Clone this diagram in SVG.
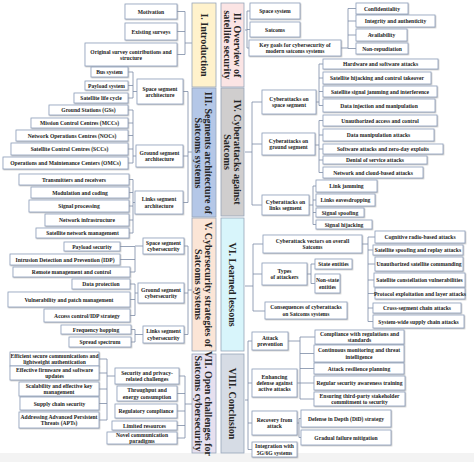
<svg xmlns="http://www.w3.org/2000/svg" width="474" height="462" viewBox="0 0 474 462">
<defs>
<filter id="sh" x="-10%" y="-10%" width="130%" height="140%"><feDropShadow dx="0.7" dy="0.8" stdDeviation="0.5" flood-color="#8a8a8a" flood-opacity="0.55"/></filter>
<style>
.b{fill:#fff;stroke:#8D9FBB;stroke-width:0.8;filter:url(#sh)}
.t{font-family:"Liberation Serif","Times New Roman",serif;font-weight:bold;font-size:5.6px;fill:#1c1c1c;text-anchor:middle;dominant-baseline:central}
.s{font-family:"Liberation Serif","Times New Roman",serif;font-weight:bold;font-size:10px;fill:#262626;text-anchor:middle;dominant-baseline:central}
.sec{stroke:#97A5BA;stroke-width:0.8}
.c{fill:none;stroke:#7C8CA6;stroke-width:0.8}
</style>
</defs>
<rect x="0" y="0" width="474" height="462" fill="#fff"/>
<rect x="0" y="453" width="474" height="9" fill="#F3F3F3"/>

<g id="connectors" class="c">
<path d="M185,11.5V54.5M177,11.5H185M177,31.5H185M177,54.5H185M185,43H192"/>
<path d="M133,72V98M128,72H133M128,85.5H133M128,98H133M133,91.5H137"/>
<path d="M133,110V163M128,110H133M128,123H133M128,135.5H133M128,149H133M128,163H133M133,156H136"/>
<path d="M133,179.5V233M129,179.5H133M129,192.5H133M129,206H133M129,220H133M129,233H133M133,202.5H135"/>
<path d="M188,91.5V202.5M183,91.5H188M183,156H188M183,202.5H188M188,152H192"/>
<path d="M135,246.5V272M120,246.5H135M120,259.5H135M130,272H135M135,246H143"/>
<path d="M135,284V315.5M130,284H135M130,299.5H135M130,315.5H135M135,293H138"/>
<path d="M135,329.5V342M131,329.5H135M131,342H135M135,334.5H143"/>
<path d="M188,246V334.5M184,246H188M184,293H188M184,334.5H188M188,290H192"/>
<path d="M107,359V420M99,359H107M99,373H107M99,389H107M99,403.5H107M99,420H107M107,376H115"/>
<path d="M185,376V438M179,376H185M177,393.5H185M177,411H185M177,425.5H185M177,438H185M185,404H192"/>
<path d="M247,11V48M247,11H250M247,29.5H250M247,48H249M245,30H247"/>
<path d="M348,8.5V48.5M348,8.5H356M348,21H356M348,35H356M348,48.5H356M341,48H348"/>
<path d="M319,64V105.5M319,64H323M319,78H323M319,91.5H323M319,105.5H323M316,102H319"/>
<path d="M319,120.5V172.5M319,120.5H323M319,135H323M319,149H323M319,160H323M319,172.5H323M315,145H319"/>
<path d="M313,186V224.5M313,186H316M313,200H316M313,212.5H316M313,224.5H316M309,205H313"/>
<path d="M252,102V205M252,102H262M252,144H262M252,205H262M245,152H252"/>
<path d="M311,264V283.5M311,264H315M311,283.5H315M307,274H311"/>
<path d="M253,244V311M253,244H263M253,274H262M253,311H265M245,286H253"/>
<path d="M368,237V321.5M368,237H375M368,250H373M368,264H375M368,280H374M368,293.5H375M368,308H373M368,321.5H373M362,244H368"/>
<path d="M248,341V449.5M248,341H252M248,383H252M248,423H252M248,449.5H252M245,400H248"/>
<path d="M300,337V399M300,337H315M300,353.5H314M300,368.5H314M300,383H314M300,399H314M288,341H300M297,383H300"/>
<path d="M299,418.5V437.5M299,418.5H301M299,437.5H301M297,423H299"/>
</g>

<g id="sec-I"><rect class="sec" x="192" y="3" width="24" height="84" fill="#FFF2CC"/><text class="s" transform="translate(204,45) rotate(90)">I. Introduction</text></g>
<g id="sec-II"><rect class="sec" x="221" y="3" width="23" height="84" fill="#FBE4E4"/><text class="s" transform="translate(232.5,45) rotate(90)"><tspan x="0" y="-5">II. Overview of</tspan><tspan x="0" y="5">satellite security</tspan></text></g>
<g id="sec-III"><rect class="sec" x="192" y="88" width="24" height="129" fill="#B4C7E7"/><text class="s" transform="translate(204,153) rotate(90)"><tspan x="0" y="-5">III. Segments architecture of</tspan><tspan x="0" y="5">Satcoms systems</tspan></text></g>
<g id="sec-IV"><rect class="sec" x="221" y="88" width="23" height="128" fill="#D0CECE"/><text class="s" transform="translate(232.5,152) rotate(90)"><tspan x="0" y="-5">IV. Cyberattacks against</tspan><tspan x="0" y="5">Satcoms</tspan></text></g>
<g id="sec-V"><rect class="sec" x="192" y="218" width="24" height="133" fill="#FBE5D6"/><text class="s" transform="translate(204,284.5) rotate(90)"><tspan x="0" y="-5">V. Cybersecurity strategies of</tspan><tspan x="0" y="5">Satcoms systems</tspan></text></g>
<g id="sec-VI"><rect class="sec" x="221" y="218" width="23" height="133" fill="#D8F5FB"/><text class="s" transform="translate(232.5,284.5) rotate(90)">VI. Learned lessons</text></g>
<g id="sec-VII"><rect class="sec" x="192" y="354" width="24" height="99" fill="#E6E0EF"/><text class="s" transform="translate(204,403.5) rotate(90)"><tspan x="0" y="-5">VII. Open challenges for</tspan><tspan x="0" y="5">Satcoms cybersecurity</tspan></text></g>
<g id="sec-VIII"><rect class="sec" x="221" y="354" width="23" height="99" fill="#D6DCE5"/><text class="s" transform="translate(232.5,403.5) rotate(90)">VIII. Conclusion</text></g>

<g id="n1"><rect class="b" x="125" y="4" width="52" height="15"/><text class="t" x="151" y="11.5">Motivation</text></g>
<g id="n2"><rect class="b" x="125" y="23" width="52" height="17"/><text class="t" x="151" y="31.5">Existing surveys</text></g>
<g id="n3"><rect class="b" x="85" y="43" width="92" height="23"/><text class="t"><tspan x="131" y="51.5">Original survey contributions and</tspan><tspan x="131" y="58">structure</tspan></text></g>
<g id="n4"><rect class="b" x="91" y="67" width="37" height="10"/><text class="t" x="109.5" y="72">Bus system</text></g>
<g id="n5"><rect class="b" x="85" y="81" width="43" height="9"/><text class="t" x="106.5" y="85.5">Payload system</text></g>
<g id="n6"><rect class="b" x="74" y="93" width="54" height="10"/><text class="t" x="101" y="98">Satellite life cycle</text></g>
<g id="n7"><rect class="b" x="137" y="79" width="46" height="25"/><text class="t"><tspan x="160" y="88.5">Space segment</tspan><tspan x="160" y="95">architecture</tspan></text></g>
<g id="n8"><rect class="b" x="49" y="105" width="79" height="10"/><text class="t" x="88.5" y="110">Ground Stations (GSs)</text></g>
<g id="n9"><rect class="b" x="31" y="118" width="97" height="10"/><text class="t" x="79.5" y="123">Mission Control Centres (MCCs)</text></g>
<g id="n10"><rect class="b" x="16" y="130" width="112" height="11"/><text class="t" x="72" y="135.5">Network Operations Centres (NOCs)</text></g>
<g id="n11"><rect class="b" x="11" y="143" width="117" height="12"/><text class="t" x="69.5" y="149">Satellite Control Centres (SCCs)</text></g>
<g id="n12"><rect class="b" x="3" y="157" width="125" height="12"/><text class="t" x="65.5" y="163">Operations and Maintenance Centers (OMCs)</text></g>
<g id="n13"><rect class="b" x="136" y="145" width="47" height="22"/><text class="t"><tspan x="159.5" y="152.7">Ground segment</tspan><tspan x="159.5" y="159.2">architecture</tspan></text></g>
<g id="n14"><rect class="b" x="19" y="174" width="110" height="11"/><text class="t" x="74" y="179.5">Transmitters and receivers</text></g>
<g id="n15"><rect class="b" x="31" y="187" width="98" height="11"/><text class="t" x="80" y="192.5">Modulation and coding</text></g>
<g id="n16"><rect class="b" x="29" y="200" width="100" height="12"/><text class="t" x="79" y="206">Signal processing</text></g>
<g id="n17"><rect class="b" x="45" y="214" width="84" height="12"/><text class="t" x="87" y="220">Network infrastructure</text></g>
<g id="n18"><rect class="b" x="36" y="228" width="93" height="10"/><text class="t" x="82.5" y="233">Satellite network management</text></g>
<g id="n19"><rect class="b" x="135" y="191" width="48" height="23"/><text class="t"><tspan x="159" y="199.2">Links segment</tspan><tspan x="159" y="205.7">architecture</tspan></text></g>
<g id="n20"><rect class="b" x="64" y="242" width="56" height="9"/><text class="t" x="92" y="246.5">Payload security</text></g>
<g id="n21"><rect class="b" x="10" y="254" width="110" height="11"/><text class="t" x="65" y="259.5">Intrusion Detection and Prevention (IDP)</text></g>
<g id="n22"><rect class="b" x="13" y="267" width="117" height="10"/><text class="t" x="71.5" y="272">Remote management and control</text></g>
<g id="n23"><rect class="b" x="143" y="238" width="41" height="16"/><text class="t"><tspan x="163.5" y="242.8">Space segment</tspan><tspan x="163.5" y="249.3">cybersecurity</tspan></text></g>
<g id="n24"><rect class="b" x="72" y="279" width="58" height="10"/><text class="t" x="101" y="284">Data protection</text></g>
<g id="n25"><rect class="b" x="8" y="292" width="122" height="15"/><text class="t" x="69" y="299.5">Vulnerability and patch management</text></g>
<g id="n26"><rect class="b" x="44" y="309" width="86" height="13"/><text class="t" x="87" y="315.5">Access control/IDP strategy</text></g>
<g id="n27"><rect class="b" x="138" y="283" width="46" height="20"/><text class="t"><tspan x="161" y="289.8">Ground segment</tspan><tspan x="161" y="296.3">cybersecurity</tspan></text></g>
<g id="n28"><rect class="b" x="61" y="325" width="70" height="9"/><text class="t" x="96" y="329.5">Frequency hopping</text></g>
<g id="n29"><rect class="b" x="69" y="337" width="62" height="10"/><text class="t" x="100" y="342">Spread spectrum</text></g>
<g id="n30"><rect class="b" x="143" y="326" width="41" height="17"/><text class="t"><tspan x="163.5" y="331.3">Links segment</tspan><tspan x="163.5" y="337.8">cybersecurity</tspan></text></g>
<g id="n31"><rect class="b" x="10" y="352" width="89" height="14"/><text class="t"><tspan x="54.5" y="355.8">Efficient secure communications and</tspan><tspan x="54.5" y="362.2">lightweight authentication</tspan></text></g>
<g id="n32"><rect class="b" x="10" y="366" width="89" height="14"/><text class="t"><tspan x="54.5" y="369.8">Effective firmware and software</tspan><tspan x="54.5" y="376.2">updates</tspan></text></g>
<g id="n33"><rect class="b" x="19" y="382" width="80" height="14"/><text class="t"><tspan x="59" y="385.8">Scalability and effective key</tspan><tspan x="59" y="392.2">management</tspan></text></g>
<g id="n34"><rect class="b" x="20" y="397" width="79" height="13"/><text class="t" x="59.5" y="403.5">Supply chain security</text></g>
<g id="n35"><rect class="b" x="19" y="412" width="80" height="16"/><text class="t"><tspan x="59" y="416.8">Addressing Advanced Persistent</tspan><tspan x="59" y="423.2">Threats (APTs)</tspan></text></g>
<g id="n36"><rect class="b" x="115" y="368" width="64" height="16"/><text class="t"><tspan x="147" y="372.8">Security and privacy-</tspan><tspan x="147" y="379.2">related challenges</tspan></text></g>
<g id="n37"><rect class="b" x="117" y="386" width="60" height="15"/><text class="t"><tspan x="147" y="390.3">Throughput and</tspan><tspan x="147" y="396.7">energy consumption</tspan></text></g>
<g id="n38"><rect class="b" x="115" y="404" width="62" height="14"/><text class="t" x="146" y="411">Regulatory compliance</text></g>
<g id="n39"><rect class="b" x="112" y="421" width="65" height="9"/><text class="t" x="144.5" y="425.5">Limited resources</text></g>
<g id="n40"><rect class="b" x="107" y="432" width="70" height="12"/><text class="t"><tspan x="142" y="434.8">Novel communication</tspan><tspan x="142" y="441.2">paradigms</tspan></text></g>

<g id="n41"><rect class="b" x="250" y="3" width="50" height="16"/><text class="t" x="275" y="11">Space system</text></g>
<g id="n42"><rect class="b" x="250" y="22" width="50" height="15"/><text class="t" x="275" y="29.5">Satcoms</text></g>
<g id="n43"><rect class="b" x="249" y="40" width="92" height="16"/><text class="t"><tspan x="295" y="44.8">Key goals for cybersecurity of</tspan><tspan x="295" y="51.2">modern satcoms systems</tspan></text></g>
<g id="n44"><rect class="b" x="356" y="3" width="52" height="11"/><text class="t" x="382" y="8.5">Confidentiality</text></g>
<g id="n45"><rect class="b" x="356" y="15" width="79" height="12"/><text class="t" x="395.5" y="21">Integrity and authenticity</text></g>
<g id="n46"><rect class="b" x="356" y="29" width="51" height="12"/><text class="t" x="381.5" y="35">Availability</text></g>
<g id="n47"><rect class="b" x="356" y="43" width="52" height="11"/><text class="t" x="382" y="48.5">Non-repudiation</text></g>
<g id="n48"><rect class="b" x="262" y="90" width="54" height="24"/><text class="t"><tspan x="289" y="98.8">Cyberattacks on</tspan><tspan x="289" y="105.2">space segment</tspan></text></g>
<g id="n49"><rect class="b" x="323" y="59" width="115" height="10"/><text class="t" x="380.5" y="64">Hardware and software attacks</text></g>
<g id="n50"><rect class="b" x="323" y="72" width="108" height="12"/><text class="t" x="377" y="78">Satellite hijacking and control takeover</text></g>
<g id="n51"><rect class="b" x="323" y="86" width="114" height="11"/><text class="t" x="380" y="91.5">Satellite signal jamming and interference</text></g>
<g id="n52"><rect class="b" x="323" y="99" width="112" height="13"/><text class="t" x="379" y="105.5">Data injection and manipulation</text></g>
<g id="n53"><rect class="b" x="262" y="133" width="53" height="22"/><text class="t"><tspan x="288.5" y="140.8">Cyberattacks on</tspan><tspan x="288.5" y="147.2">ground segment</tspan></text></g>
<g id="n54"><rect class="b" x="323" y="115" width="114" height="11"/><text class="t" x="380" y="120.5">Unauthorized access and control</text></g>
<g id="n55"><rect class="b" x="323" y="129" width="111" height="12"/><text class="t" x="378.5" y="135">Data manipulation attacks</text></g>
<g id="n56"><rect class="b" x="323" y="144" width="120" height="10"/><text class="t" x="383" y="149">Software attacks and zero-day exploits</text></g>
<g id="n57"><rect class="b" x="323" y="156" width="104" height="8"/><text class="t" x="375" y="160">Denial of service attacks</text></g>
<g id="n58"><rect class="b" x="323" y="167" width="100" height="11"/><text class="t" x="373" y="172.5">Network and cloud-based attacks</text></g>
<g id="n59"><rect class="b" x="262" y="195" width="47" height="20"/><text class="t"><tspan x="285.5" y="201.8">Cyberattacks on</tspan><tspan x="285.5" y="208.2">links segment</tspan></text></g>
<g id="n60"><rect class="b" x="316" y="180" width="61" height="12"/><text class="t" x="346.5" y="186">Link jamming</text></g>
<g id="n61"><rect class="b" x="316" y="194" width="59" height="12"/><text class="t" x="345.5" y="200">Links eavesdropping</text></g>
<g id="n62"><rect class="b" x="316" y="208" width="48" height="9"/><text class="t" x="340" y="212.5">Signal spoofing</text></g>
<g id="n63"><rect class="b" x="316" y="220" width="56" height="9"/><text class="t" x="344" y="224.5">Signal hijacking</text></g>
<g id="n64"><rect class="b" x="263" y="235" width="99" height="18"/><text class="t"><tspan x="312.5" y="240.8">Cyberattack vectors on overall</tspan><tspan x="312.5" y="247.2">Satcoms</tspan></text></g>
<g id="n65"><rect class="b" x="262" y="263" width="45" height="22"/><text class="t"><tspan x="284.5" y="270.8">Types</tspan><tspan x="284.5" y="277.2">of  attackers</tspan></text></g>
<g id="n66"><rect class="b" x="315" y="259" width="37" height="10"/><text class="t" x="333.5" y="264">State entities</text></g>
<g id="n67"><rect class="b" x="315" y="274" width="25" height="19"/><text class="t"><tspan x="327.5" y="280.3">Non-state</tspan><tspan x="327.5" y="286.7">entities</tspan></text></g>
<g id="n68"><rect class="b" x="265" y="302" width="82" height="17"/><text class="t"><tspan x="306" y="307.3">Consequences of cyberattacks</tspan><tspan x="306" y="313.7">on Satcoms systems</tspan></text></g>
<g id="n69"><rect class="b" x="375" y="231" width="90" height="12"/><text class="t" x="420" y="237">Cognitive radio-based attacks</text></g>
<g id="n70"><rect class="b" x="373" y="245" width="90" height="10"/><text class="t" x="418" y="250">Satellite spoofing and replay attacks</text></g>
<g id="n71"><rect class="b" x="375" y="257" width="88" height="14"/><text class="t" x="419" y="264">Unauthorized satellite commanding</text></g>
<g id="n72"><rect class="b" x="374" y="273" width="91" height="14"/><text class="t" x="419.5" y="280">Satellite constellation vulnerabilities</text></g>
<g id="n73"><rect class="b" x="375" y="288" width="90" height="11"/><text class="t" x="420" y="293.5">Protocol exploitation and layer attacks</text></g>
<g id="n74"><rect class="b" x="373" y="303" width="88" height="10"/><text class="t" x="417" y="308">Cross-segment chain attacks</text></g>
<g id="n75"><rect class="b" x="373" y="315" width="91" height="13"/><text class="t" x="418.5" y="321.5">System-wide supply chain attacks</text></g>
<g id="n76"><rect class="b" x="252" y="332" width="36" height="18"/><text class="t"><tspan x="270" y="337.8">Attack</tspan><tspan x="270" y="344.2">prevention</tspan></text></g>
<g id="n77"><rect class="b" x="252" y="369" width="45" height="28"/><text class="t"><tspan x="274.5" y="376.6">Enhancing</tspan><tspan x="274.5" y="383">defense against</tspan><tspan x="274.5" y="389.4">active attacks</tspan></text></g>
<g id="n78"><rect class="b" x="252" y="411" width="45" height="24"/><text class="t"><tspan x="274.5" y="419.8">Recovery from</tspan><tspan x="274.5" y="426.2">attack</tspan></text></g>
<g id="n79"><rect class="b" x="252" y="442" width="45" height="15"/><text class="t"><tspan x="274.5" y="446.3">Integration with</tspan><tspan x="274.5" y="452.7">5G/6G systems</tspan></text></g>
<g id="n80"><rect class="b" x="315" y="330" width="89" height="14"/><text class="t"><tspan x="359.5" y="333.8">Compliance with regulations and</tspan><tspan x="359.5" y="340.2">standards</tspan></text></g>
<g id="n81"><rect class="b" x="314" y="345" width="90" height="17"/><text class="t"><tspan x="359" y="350.3">Continuous monitoring and threat</tspan><tspan x="359" y="356.7">intelligence</tspan></text></g>
<g id="n82"><rect class="b" x="314" y="363" width="90" height="11"/><text class="t" x="359" y="368.5">Attack resilience planning</text></g>
<g id="n83"><rect class="b" x="314" y="376" width="91" height="14"/><text class="t" x="359.5" y="383">Regular security awareness training</text></g>
<g id="n84"><rect class="b" x="314" y="392" width="91" height="14"/><text class="t"><tspan x="359.5" y="395.8">Ensuring third-party stakeholder</tspan><tspan x="359.5" y="402.2">commitment to security</tspan></text></g>
<g id="n85"><rect class="b" x="301" y="410" width="90" height="17"/><text class="t" x="346" y="418.5">Defense in Depth (DiD) strategy</text></g>
<g id="n86"><rect class="b" x="301" y="430" width="90" height="15"/><text class="t" x="346" y="437.5">Gradual failure mitigation</text></g>
</svg>
